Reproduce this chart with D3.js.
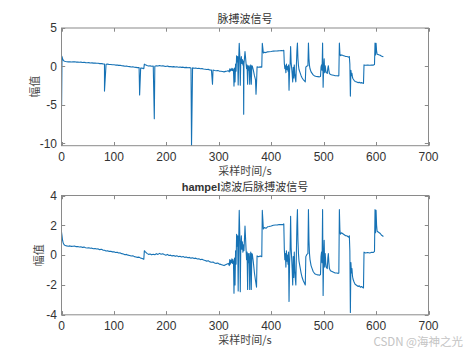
<!DOCTYPE html>
<html><head><meta charset="utf-8">
<script src="https://cdn.jsdelivr.net/npm/d3@7"></script>
<style>
html,body{margin:0;padding:0;background:#fff;}
svg{display:block;}
</style></head>
<body>
<svg id="chart" width="474" height="355"></svg>
<script>
// ---- data ----
const sigTime = [0,1,2,3,4,5,6,8,10,13,16,19,22,25,28,31,34,37,40,43,46,49,52,55,58,61,64,67,70,73,76,79,82,85,88,91,94,97,100,103,106,109,112,115,118,121,124,127,130,133,136,139,142,145,148,151,154,157,158,160,163,166,169,172,175,178,181,184,187,190,193,196,199,202,205,208,211,214,217,220,223,226,229,232,235,238,241,244,247,250,253,256,259,262,265,268,271,274,277,280,283,286,289,292,295,298,301,304,307,310,313,316,
318,320,321,322,323,324,325,326,327,328,329,330,331,332,333,334,335,336,337,338,339,340,341,342,343,344,345,346,347,348,349,350,351,352,353,354,355,356,357,358,359,360,361,362,363,364,366,368,370,372,373,376,379,382,383,384,385,387,390,393,396,400,404,408,412,416,420,423,424,425,426,427,428,429,430,431,432,433,434,435,436,437,438,439,440,441,442,443,444,445,446,447,448,449,450,451,452,453,455,457,459,461,463,465,466,468,470,471,472,473,474,476,478,480,483,486,489,492,494,495,496,497,498,499,500,501,502,503,504,505,507,508,509,510,511,513,516,519,522,525,528,529,530,531,532,534,536,538,540,542,544,546,548,549,550,551,552,553,554,555,556,558,560,562,564,566,568,570,572,574,576,577,580,584,588,592,595,597,598,599,600,601,602,604,606,608,610,612,614];
const sigValue = [1.55,1.3,1.0,0.85,0.76,0.7,0.67,0.64,0.62,0.6,0.62,0.59,0.6,0.61,0.57,0.58,0.55,0.56,0.52,0.54,0.5,0.48,0.5,0.46,0.47,0.43,0.45,0.41,0.42,0.37,0.39,0.34,0.33,0.28,0.3,0.25,0.26,0.22,0.23,0.18,0.2,0.14,0.15,0.1,0.08,0.03,0.05,0.0,-0.02,-0.06,-0.04,-0.1,-0.12,-0.15,-0.13,-0.2,-0.22,-0.28,0.3,0.22,0.12,0.05,0.08,0.02,0.06,0.03,0.1,0.05,0.12,0.06,0.09,0.04,0.0,0.05,-0.02,0.0,-0.05,-0.02,-0.08,-0.04,-0.1,-0.07,-0.12,-0.09,-0.15,-0.12,-0.17,-0.15,-0.2,-0.18,-0.23,-0.2,-0.26,-0.24,-0.3,-0.28,-0.33,-0.36,-0.4,-0.38,-0.45,-0.48,-0.46,-0.52,-0.55,-0.53,-0.6,-0.62,-0.66,-0.7,-0.64,-0.6,
-0.55,-0.7,-0.3,-0.6,-0.35,-0.5,-0.25,-0.55,-0.3,-0.45,-2.55,-0.2,-2.0,0.3,-0.6,1.4,0.6,1.3,-2.4,1.0,3.0,1.5,-2.45,0.8,1.3,0.4,0.9,0.2,0.7,0.3,1.1,1.95,1.2,0.4,-0.3,0.2,-2.3,0.1,-0.5,0.1,-2.3,-0.2,0.2,-2.3,0.1,0.05,-0.5,-1.2,-1.7,-2.15,-0.05,-0.1,-0.05,-0.1,3.0,2.4,1.75,1.85,1.8,1.9,1.92,1.95,2.0,2.02,2.03,2.05,2.06,2.05,2.1,0.4,-0.3,0.1,-0.8,0.3,-0.4,0.0,-0.6,0.2,-3.1,-0.5,0.3,2.6,0.5,-0.2,-1.0,-2.0,-0.1,-1.5,0.2,-1.0,-1.6,-2.0,0.1,2.0,3.05,1.0,0.1,-0.4,-0.8,-1.2,-1.5,-1.7,-1.85,-2.0,-0.1,0.05,0.1,3.05,1.0,0.1,-0.3,-0.7,-0.9,-1.1,-1.25,-1.3,-1.32,-1.35,-1.3,-0.1,0.2,-0.5,3.05,-2.7,-0.2,1.0,-0.8,0.1,-0.5,-0.8,-0.9,-0.2,0.1,-0.5,-0.9,-1.05,-1.1,-1.15,-1.2,-1.2,-1.22,-1.2,3.05,1.7,1.4,1.5,1.45,1.4,1.35,1.3,1.3,1.25,1.2,1.3,0.3,-3.85,-0.5,-1.2,-0.9,-1.4,-1.6,-1.8,-1.95,-2.0,-2.05,-2.1,-2.05,-2.15,-2.1,-2.15,-2.2,0.2,0.15,0.18,0.15,0.2,0.18,0.25,3.05,1.5,3.0,2.0,1.6,1.55,1.5,1.45,1.35,1.3,1.25];
// outliers present only in the raw signal (removed by the hampel filter)
const outlierTime  = [0.2, 82, 149, 177, 248, 288, 347.5, 371];
const outlierValue = [-5.0, -3.2, -3.7, -6.8, -10.3, -2.3, -6.2, -3.6];

const xTicks = [0,100,200,300,400,500,600,700];
const yTicksTop = [-10,-5,0,5];
const yTicksBottom = [-4,-2,0,2,4];
const titleTop = "脉搏波信号";
const titleBottom = "hampel滤波后脉搏波信号";
const xLabel = "采样时间/s";
const yLabel = "幅值";

// ---- build series ----
const filtered = sigTime.map((t,i)=>({t, v: sigValue[i]}));
const raw = filtered.concat(outlierTime.map((t,i)=>({t, v: outlierValue[i]})))
  .sort((a,b)=>a.t-b.t);

const svg = d3.select("#chart");
svg.append("rect").attr("width",474).attr("height",355).attr("fill","#fff");

const left = 61.5, right = 428.5;
const cjk = "'Noto Sans CJK SC', 'Noto Sans', sans-serif";
const latin = "'Liberation Sans', Arial, sans-serif";

function panel(data, top, bottom, yDomain, yTicks, title, ylabX) {
  const x = d3.scaleLinear().domain([0,700]).range([left,right]);
  const y = d3.scaleLinear().domain(yDomain).range([bottom,top]);
  const g = svg.append("g");
  const clipId = "clip" + Math.round(top);
  svg.append("clipPath").attr("id",clipId).append("rect")
    .attr("x",left).attr("y",top).attr("width",right-left).attr("height",bottom-top);

  g.append("path").datum(data)
    .attr("clip-path","url(#"+clipId+")")
    .attr("fill","none").attr("stroke","#1672b5").attr("stroke-width",1.1)
    .attr("stroke-linejoin","round")
    .attr("d", d3.line().x(d=>x(d.t)).y(d=>y(d.v)));

  const axisColor = "#8a8a8a";
  g.append("rect").attr("x",left).attr("y",top).attr("width",right-left).attr("height",bottom-top)
    .attr("fill","none").attr("stroke",axisColor).attr("stroke-width",1);
  const tl = 3.7;
  xTicks.forEach(t=>{
    const px = Math.round(x(t))+0.5;
    g.append("line").attr("x1",px).attr("x2",px).attr("y1",bottom).attr("y2",bottom-tl).attr("stroke",axisColor);
    g.append("line").attr("x1",px).attr("x2",px).attr("y1",top).attr("y2",top+tl).attr("stroke",axisColor);
    g.append("text").attr("x",x(t)).attr("y",bottom+15).attr("text-anchor","middle")
      .attr("font-family",latin).attr("font-size",12).attr("fill","#333").text(t);
  });
  yTicks.forEach(t=>{
    const py = Math.round(y(t))+0.5;
    g.append("line").attr("x1",left).attr("x2",left+tl).attr("y1",py).attr("y2",py).attr("stroke",axisColor);
    g.append("line").attr("x1",right).attr("x2",right-tl).attr("y1",py).attr("y2",py).attr("stroke",axisColor);
    g.append("text").attr("x",left-4.5).attr("y",y(t)+4.3).attr("text-anchor","end")
      .attr("font-family",latin).attr("font-size",12).attr("fill","#333").text(t);
  });
  // title
  const tt = g.append("text").attr("x",(left+right)/2).attr("y",top-5)
    .attr("text-anchor","middle").attr("font-size",11).attr("fill","#333").attr("font-family",cjk);
  const m = title.match(/^([A-Za-z]+)(.*)$/);
  if (m) {
    tt.append("tspan").attr("font-family",latin).attr("font-weight","bold").attr("font-size",11).text(m[1]);
    tt.append("tspan").text(m[2]);
  } else tt.text(title);
  // x label
  g.append("text").attr("x",(left+right)/2).attr("y",bottom+29.5).attr("text-anchor","middle")
    .attr("font-family",cjk).attr("font-size",11).attr("fill","#444").text(xLabel);
  // y label
  const cy = (top+bottom)/2;
  g.append("text").attr("transform",`translate(${ylabX},${cy}) rotate(-90)`).attr("text-anchor","middle")
    .attr("font-family",cjk).attr("font-size",11).attr("fill","#444").text(yLabel);
}

panel(raw, 28, 145.7, [-10.3,5], yTicksTop, titleTop, 39);
panel(filtered, 195.5, 314.8, [-4,4], yTicksBottom, titleBottom, 43);

svg.append("text").attr("x",463).attr("y",346).attr("text-anchor","end")
  .attr("font-family",cjk).attr("font-size",11.5).attr("fill","#c4c4c4").text("CSDN @海神之光");
</script>
</body></html>
